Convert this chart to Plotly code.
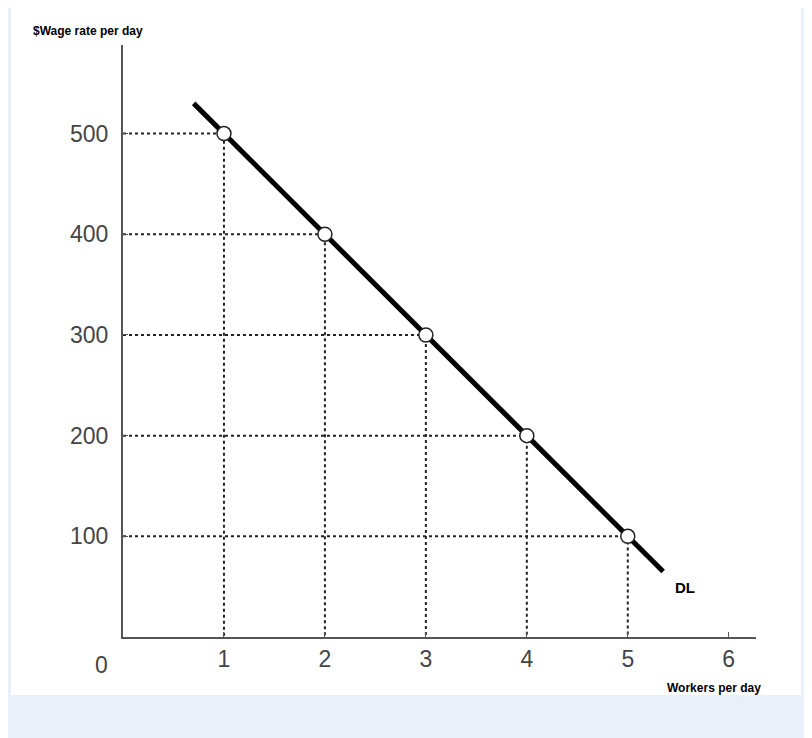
import plotly.graph_objects as go

workers = [1, 2, 3, 4, 5]
wages = [500, 400, 300, 200, 100]
line_x = [0.7, 5.35]
line_y = [530, 65]
x_ticks = [1, 2, 3, 4, 5, 6]
y_ticks = [100, 200, 300, 400, 500]

fig = go.Figure()

# dotted guides
for w, p in zip(workers, wages):
    fig.add_trace(go.Scatter(x=[0, w, w], y=[p, p, 0], mode="lines",
                             line=dict(color="#222", width=2, dash="dot"),
                             showlegend=False, hoverinfo="skip"))

fig.add_trace(go.Scatter(x=line_x, y=line_y, mode="lines",
                         line=dict(color="black", width=5), showlegend=False))
fig.add_trace(go.Scatter(x=workers, y=wages, mode="markers",
                         marker=dict(size=14, color="white", line=dict(color="#222", width=1.5)),
                         showlegend=False))

axis_common = dict(showgrid=False, zeroline=False, showline=True, linecolor="#555",
                   linewidth=2, ticks="inside", ticklen=5, tickcolor="#555",
                   tickfont=dict(family="Liberation Sans", size=23, color="#444"))
fig.update_xaxes(range=[0, 6.27], tickvals=x_ticks, **axis_common)
fig.update_yaxes(range=[0, 588], tickvals=y_ticks, ticklabelstandoff=8, **axis_common)

small = dict(family="Liberation Sans", size=12, color="black")
fig.add_annotation(x=0, y=0, xref="x", yref="y", text="0", showarrow=False,
                   xshift=-22, yshift=-28, font=dict(family="Liberation Sans", size=23, color="#444"))
fig.add_annotation(x=5.35, y=65, xref="x", yref="y", text="<b>DL</b>", showarrow=False,
                   xshift=22, yshift=-16, font=dict(family="Liberation Sans", size=15, color="black"))
fig.add_annotation(x=-0.145, y=1.039, xref="paper", yref="paper", xanchor="left",
                   text="<b>$Wage rate per day</b>", showarrow=False, font=small)
fig.add_annotation(x=1.011, y=-0.101, xref="paper", yref="paper", xanchor="right",
                   text="<b>Workers per day</b>", showarrow=False, font=small)

fig.update_layout(
    width=812, height=738,
    margin=dict(l=115, r=64, t=37, b=109),
    paper_bgcolor="#e9f0fa", plot_bgcolor="white",
    shapes=[dict(type="rect", xref="paper", yref="paper", layer="below",
                 x0=(3 - 115) / 633, x1=(793 - 115) / 633,
                 y0=(629 - 687) / 592, y1=629 / 592,
                 fillcolor="white", line=dict(width=0))],
)

fig.write_html("out.html")
